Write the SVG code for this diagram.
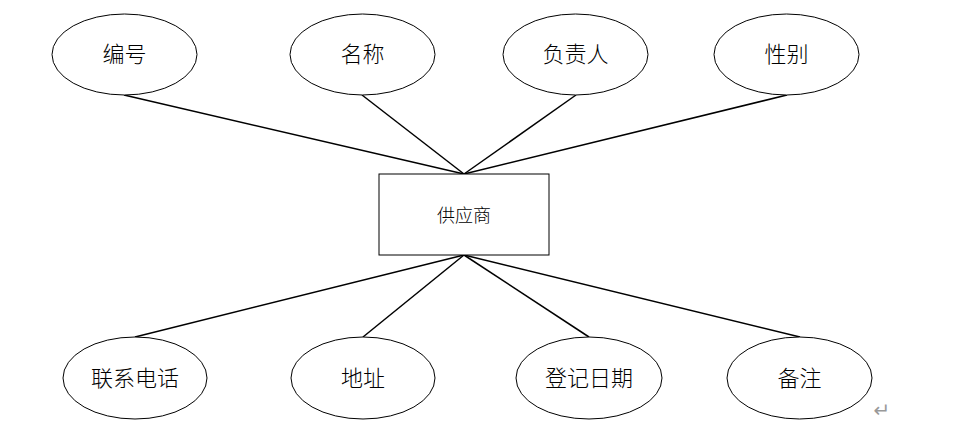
<svg xmlns="http://www.w3.org/2000/svg" width="953" height="435" viewBox="0 0 953 435">
<style>
.e{fill:#fff;stroke:#000;stroke-width:1}
.r{fill:#fff;stroke:#000;stroke-width:1}
.t{font-family:"Noto Sans CJK SC","Noto Sans",sans-serif;font-size:22px;font-weight:300;fill:#000;text-anchor:middle;dominant-baseline:central}
.s{font-size:18px}
.c line{stroke:#000;stroke-width:1.5}
</style>
<rect width="953" height="435" fill="#fff"/>
<g class="c" id="connectors">
<line x1="124" y1="95" x2="464" y2="174"/>
<line x1="362" y1="95" x2="464" y2="174"/>
<line x1="576" y1="95" x2="464" y2="174"/>
<line x1="787" y1="95" x2="464" y2="174"/>
<line x1="135" y1="337" x2="464" y2="255"/>
<line x1="363" y1="337" x2="464" y2="255"/>
<line x1="589" y1="337" x2="464" y2="255"/>
<line x1="800" y1="337" x2="464" y2="255"/>
</g>
<g id="supplier"><rect class="r" x="379" y="174" width="170" height="81"/><text class="t s" x="464" y="214">供应商</text></g>
<g id="a1"><ellipse class="e" cx="124.5" cy="54.5" rx="72.5" ry="40.5"/><text class="t" x="124.5" y="52">编号</text></g>
<g id="a2"><ellipse class="e" cx="362.5" cy="54.5" rx="72.5" ry="40.5"/><text class="t" x="362.5" y="52">名称</text></g>
<g id="a3"><ellipse class="e" cx="575.5" cy="54.5" rx="72.5" ry="40.5"/><text class="t" x="575.5" y="52">负责人</text></g>
<g id="a4"><ellipse class="e" cx="786.5" cy="54.5" rx="72.5" ry="40.5"/><text class="t" x="786.5" y="52">性别</text></g>
<g id="a5"><ellipse class="e" cx="135" cy="378" rx="72" ry="41"/><text class="t" x="135" y="376">联系电话</text></g>
<g id="a6"><ellipse class="e" cx="363" cy="378" rx="72" ry="41"/><text class="t" x="363" y="376">地址</text></g>
<g id="a7"><ellipse class="e" cx="589" cy="378" rx="73" ry="41"/><text class="t" x="589" y="376">登记日期</text></g>
<g id="a8"><ellipse class="e" cx="799.5" cy="378" rx="72.5" ry="41"/><text class="t" x="799.5" y="376">备注</text></g>
<text x="882" y="410" font-family="DejaVu Sans,sans-serif" font-size="20" fill="#999" text-anchor="middle" dominant-baseline="central">↵</text>
</svg>
